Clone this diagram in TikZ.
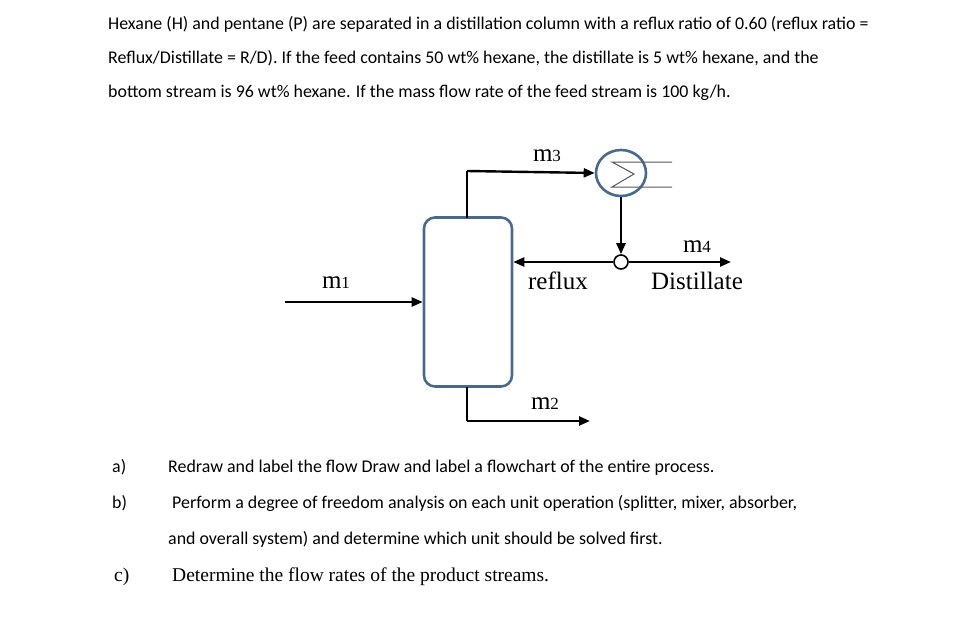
\documentclass[tikz,border=0pt]{standalone}
\usepackage{fontspec}
\setmainfont{Carlito}
\newfontfamily\serf{Liberation Serif}
\usetikzlibrary{arrows.meta,shapes.geometric}
\definecolor{vessel}{HTML}{4A6A8C}
\begin{document}
\begin{tikzpicture}[x=1pt,y=-1pt,
  flow/.style={line width=2.4pt,-{Triangle[length=11pt,width=9pt]}},
  pipe/.style={line width=2.4pt},
  lbl/.style={font=\serf\fontsize{25}{27}\selectfont,inner sep=0pt},
  para/.style={anchor=base west,inner sep=0pt,font=\fontsize{17.9}{20}\selectfont}]
\useasboundingbox (0,0) rectangle (954,624);
\fill[white] (0,0) rectangle (954,624);
% paragraph
\node[para] (p1) at (108,29) {Hexane (H) and pentane (P) are separated in a distillation column with a reflux ratio of 0.60 (reflux ratio =};
\node[para] (p2) at (108,63) {Reflux/Distillate = R/D). If the feed contains 50 wt\% hexane, the distillate is 5 wt\% hexane, and the};
\node[para] (p3) at (108,97) {bottom stream is 96 wt\% hexane. If the mass flow rate of the feed stream is 100 kg/h.};
% column
\node[draw=vessel,line width=2.6pt,rounded corners=11pt,minimum width=88pt,minimum height=169pt,inner sep=0pt] (col) at (468,302) {};
% condenser
\node[draw=vessel,line width=2.6pt,ellipse,minimum width=50pt,minimum height=46pt,inner sep=0pt] (cond) at (621,173) {};
\draw[black!65,line width=1pt] (672,162) -- (612,162) -- (634,174) -- (612,187) -- (672,187);
% splitter
\node[draw,circle,line width=1.6pt,minimum size=14pt,inner sep=0pt,fill=white] (sp) at (621,262) {};
\coordinate (t1) at (467,218);
\coordinate (t2) at (467,171);
\coordinate (b1) at (467,387);
\coordinate (b2) at (467,421);
\coordinate (b3) at (590,421);
\coordinate (f1) at (285,302);
\coordinate (d1) at (731,262);
\draw[pipe] (t1) -- (t2);
\draw[flow] (t2) -- (cond.west);
\draw[flow] (cond.south) -- (sp.north);
\draw[flow] (sp.west) -- (col.east |- sp.west);
\draw[flow] (sp.east) -- (d1);
\draw[flow] (f1) -- (col.west |- f1);
\draw[pipe] (b1) -- (b2);
\draw[flow] (b2) -- (b3);
% labels
\node[lbl] (lm3) at (547,156) {m{\fontsize{17}{18}\selectfont 3}};
\node[lbl] (lm4) at (697,247) {m{\fontsize{17}{18}\selectfont 4}};
\node[lbl] (lm1) at (336,283) {m{\fontsize{17}{18}\selectfont 1}};
\node[lbl] (lm2) at (545,404) {m{\fontsize{17}{18}\selectfont 2}};
\node[lbl] (lr) at (558,281) {reflux};
\node[lbl] (ld) at (697,281) {Distillate};
% questions
\node[para] (qa) at (112,472) {a)};
\node[para] (qat) at (168,472) {Redraw and label the flow Draw and label a flowchart of the entire process.};
\node[para] (qb) at (112,508) {b)};
\node[para] (qbt) at (172,508) {Perform a degree of freedom analysis on each unit operation (splitter, mixer, absorber,};
\node[para] (qbt2) at (168,544) {and overall system) and determine which unit should be solved first.};
\node[para,font=\serf\fontsize{19.5}{21}\selectfont] (qc) at (114,581) {c)};
\node[para,font=\serf\fontsize{19.5}{21}\selectfont] (qct) at (172,581) {Determine the flow rates of the product streams.};
\end{tikzpicture}
\end{document}
